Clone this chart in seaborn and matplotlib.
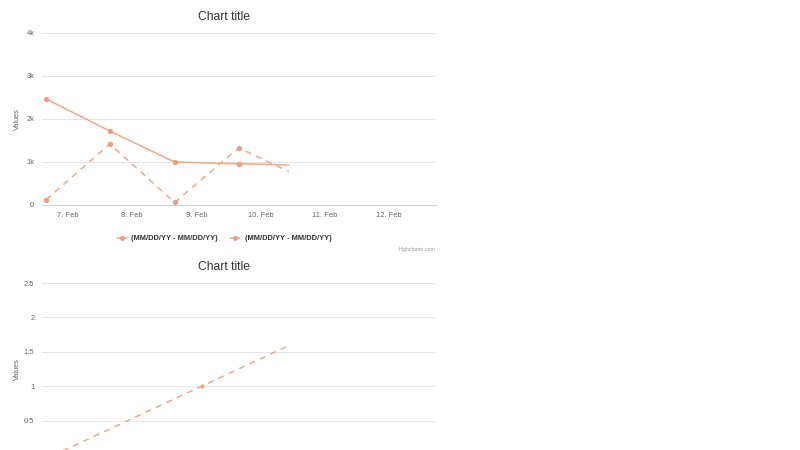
import matplotlib
matplotlib.use("Agg")
import matplotlib.pyplot as plt
import seaborn as sns
import numpy as np
import pandas as pd
from matplotlib.lines import Line2D

# ---- data ----
day_labels = ["7. Feb", "8. Feb", "9. Feb", "10. Feb", "11. Feb", "12. Feb"]
day_ticks = [0, 1, 2, 3, 4, 5]

top_x = [-0.34, 0.65, 1.66, 2.66, 3.44]
top_solid = [2465, 1720, 1000, 960, 930]
top_dashed = [125, 1420, 60, 1330, 775]
top_yticks = [0, 1000, 2000, 3000, 4000]
top_ylabels = ["0", "1k", "2k", "3k", "4k"]

bot_x = [-0.22, 2.08, 3.39]
bot_dashed = [0.0, 1.0, 1.57]
bot_yticks = [0.5, 1, 1.5, 2, 2.5]
bot_ylabels = ["0.5", "1", "1.5", "2", "2.5"]

legend_labels = ["(MM/DD/YY - MM/DD/YY)", "(MM/DD/YY - MM/DD/YY)"]
title_text = "Chart title"
ytitle = "Values"

# ---- style ----
sns.set_style("white")
plt.rcParams["font.family"] = ["Liberation Sans", "DejaVu Sans"]

LINE = "#F2A886"
MARK = "#EDA080"
GRID = "#e6e6e6"
AXIS = "#ccd6eb"
LAB = "#666666"

W, H = 800, 450
fig = plt.figure(figsize=(8, 4.5), dpi=100)

def px_axes(l, t, r, b):
    return fig.add_axes([l / W, 1 - b / H, (r - l) / W, (b - t) / H])

def style_axes(ax, yticks, ylabels, ymax, show_x=True):
    ax.set_xlim(-0.405, 5.73)
    ax.set_ylim(0, ymax)
    ax.set_yticks(yticks)
    ax.set_yticklabels(ylabels)
    if show_x:
        ax.set_xticks(day_ticks)
        ax.set_xticklabels(day_labels)
    else:
        ax.set_xticks([])
    for s in ["top", "right", "left"]:
        ax.spines[s].set_visible(False)
    ax.spines["bottom"].set_color(AXIS)
    ax.spines["bottom"].set_linewidth(0.8)
    ax.grid(axis="y", color=GRID, linewidth=0.7)
    ax.set_axisbelow(True)
    ax.tick_params(axis="y", length=0, pad=5.5, labelsize=5.4, labelcolor=LAB)
    ax.tick_params(axis="x", length=3, width=0.7, color=AXIS, pad=2,
                   labelsize=5.4, labelcolor=LAB)
    ax.set_xlabel("")
    ax.set_ylabel("")

# ---- top chart ----
ax1 = px_axes(42, 33, 436, 205)
df_top = pd.DataFrame({"x": top_x, "solid": top_solid, "dashed": top_dashed})
sns.lineplot(data=df_top, x="x", y="solid", ax=ax1, color=LINE, linewidth=1.1,
             marker="o", markersize=3.9, markerfacecolor=MARK, markeredgewidth=0,
             markevery=[0, 1, 2, 3], clip_on=False)
sns.lineplot(data=df_top, x="x", y="dashed", ax=ax1, color=LINE, linewidth=1.1,
             linestyle=(0, (4, 3.5)), marker="o", markersize=3.9,
             markerfacecolor=MARK, markeredgewidth=0, markevery=[0, 1, 2, 3],
             clip_on=False)
style_axes(ax1, top_yticks, top_ylabels, 4000)

fig.text(224 / W, 1 - 16.5 / H, title_text, ha="center", va="center",
         fontsize=8.7, color="#333333")
fig.text(17 / W, 1 - 119 / H, ytitle, ha="center", va="center",
         rotation=90, fontsize=5.3, color=LAB)

handles = [Line2D([0], [0], color=LINE, lw=1.1, marker="o", markersize=3.6,
                  markerfacecolor=MARK, markeredgewidth=0) for _ in legend_labels]
leg = fig.legend(handles, legend_labels, loc="center",
                 bbox_to_anchor=(224 / W, 1 - 238.5 / H), ncol=2, frameon=False,
                 prop={"size": 5.4, "weight": "bold"}, handlelength=1.35,
                 handletextpad=0.6, columnspacing=1.6, borderaxespad=0)
for t in leg.get_texts():
    t.set_color("#333333")

fig.text(436 / W, 1 - 250 / H, "Highcharts.com", ha="right", va="center",
         fontsize=3.8, color="#999999")

# ---- bottom chart ----
ax2 = px_axes(42, 283, 436, 455)
df_bot = pd.DataFrame({"x": bot_x, "dashed": bot_dashed})
sns.lineplot(data=df_bot, x="x", y="dashed", ax=ax2, color=LINE, linewidth=1.1,
             linestyle=(0, (4, 3.5)), marker="o", markersize=2.8,
             markerfacecolor=MARK, markeredgewidth=0, markevery=[1])
style_axes(ax2, bot_yticks, bot_ylabels, 2.5, show_x=False)

fig.text(224 / W, 1 - 266.5 / H, title_text, ha="center", va="center",
         fontsize=8.7, color="#333333")
fig.text(17 / W, 1 - 369 / H, ytitle, ha="center", va="center",
         rotation=90, fontsize=5.3, color=LAB)

fig.savefig("out.png", dpi=100, facecolor="white")
